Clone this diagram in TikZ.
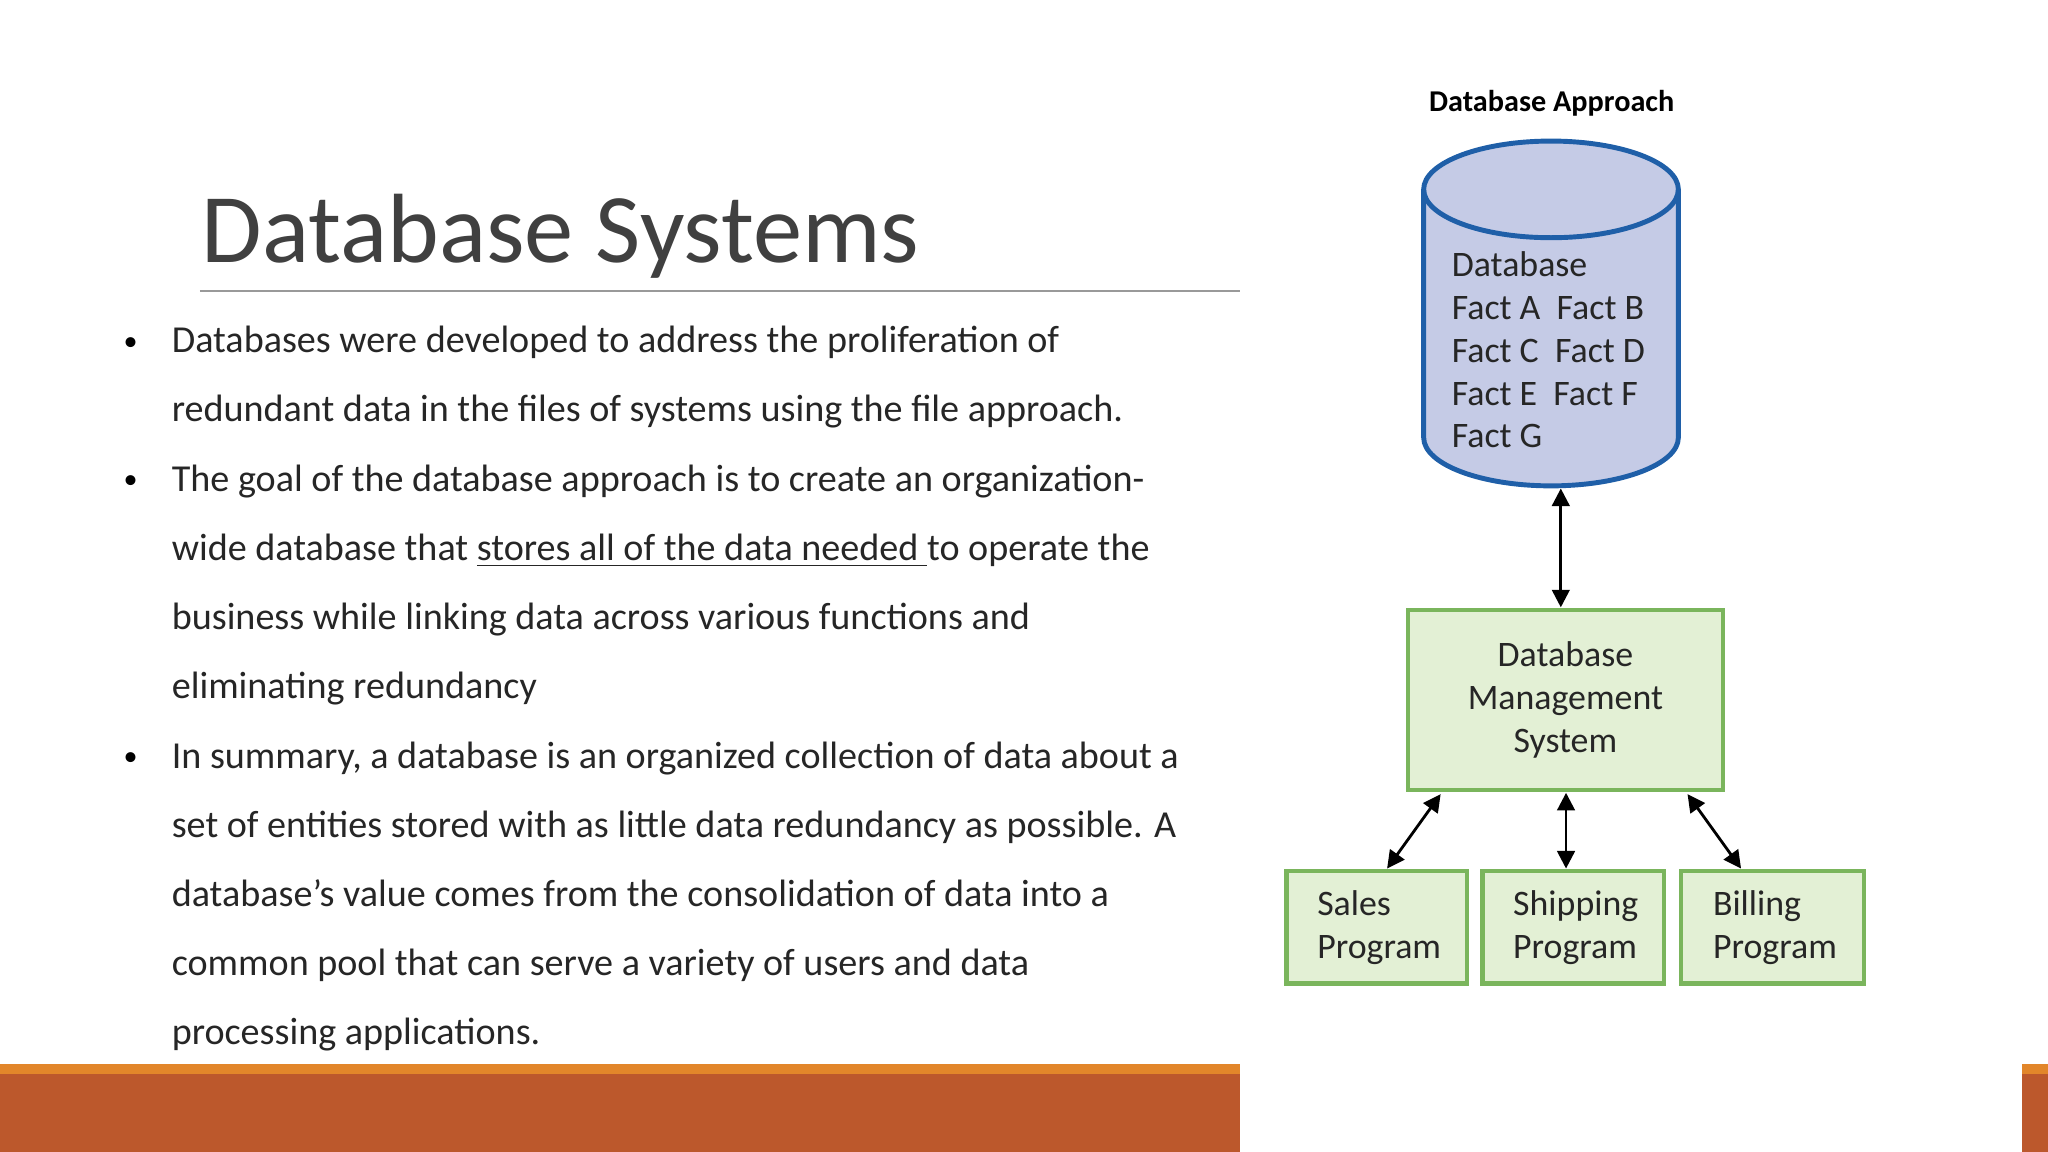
\documentclass[tikz,border=0pt]{standalone}
\usepackage{fontspec}
\setmainfont{Carlito}
\usetikzlibrary{arrows.meta}
\definecolor{cylfill}{HTML}{C5CBE6}
\definecolor{cylline}{HTML}{1F5FA8}
\definecolor{gfill}{HTML}{E3F0D5}
\definecolor{gline}{HTML}{7AB55C}
\definecolor{barA}{HTML}{BC582C}
\definecolor{barB}{HTML}{E2862A}
\begin{document}
\begin{tikzpicture}[x=0.01306cm,y=-0.01306cm,
 body/.style={anchor=base west,inner sep=0,font=\fontsize{10.85}{12}\selectfont,text=black!85},
 bul/.style={anchor=base,inner sep=0,font=\fontsize{8}{10}\selectfont},
 dtxt/.style={font=\fontsize{10.2}{12.2}\selectfont,text=black!85,inner sep=0},
 gbox/.style={draw=gline,line width=1.2pt,fill=gfill},
 arr/.style={{Triangle[length=5pt,width=5pt]}-{Triangle[length=5pt,width=5pt]},line width=0.8pt}]
\useasboundingbox (0,0) rectangle (1568,882);
% bottom bars
\fill[barA] (0,815) rectangle (949,882);
\fill[barB] (0,815) rectangle (949,822);
\fill[barA] (1548,815) rectangle (1568,882);
\fill[barB] (1548,815) rectangle (1568,822);
% title
\node[anchor=base west,inner sep=0,font=\fontsize{28}{32}\selectfont,text=black!75] (title) at (154,201) {Database Systems};
\draw[black!40,line width=0.5pt] (153,223) -- (949,223);
% bullets
\foreach \y in {268,374,586}{\node[bul] at (100,\y) {•};}
\node[body] (l1) at (131,270) {Databases were developed to address the proliferation of};
\node[body] (l2) at (131,323) {redundant data in the files of systems using the file approach.};
\node[body] (l3) at (131,376) {The goal of the database approach is to create an organization-};
\node[body] (l4) at (131,429) {wide database that \underline{stores all of the data needed }to operate the};
\node[body] (l5) at (131,482) {business while linking data across various functions and};
\node[body] (l6) at (131,535) {eliminating redundancy};
\node[body] (l7) at (131,588) {In summary, a database is an organized collection of data about a};
\node[body] (l8) at (131,641) {set of entities stored with as little data redundancy as possible. A};
\node[body] (l9) at (131,694) {database’s value comes from the consolidation of data into a};
\node[body] (l10) at (131,747) {common pool that can serve a variety of users and data};
\node[body] (l11) at (131,800) {processing applications.};
% diagram
\node[font=\bfseries\fontsize{8.6}{10}\selectfont,inner sep=0] (dtitle) at (1188,79) {Database Approach};
\fill[cylfill] (1090,145) -- (1090,335) arc[start angle=180,end angle=360,x radius=97.5,y radius=-37] -- (1285,145) -- cycle;
\draw[cylline,line width=1.4pt,fill=cylfill] (1187.5,145) ellipse [x radius=97.5,y radius=37];
\draw[cylline,line width=1.4pt] (1090,145) -- (1090,335) arc[start angle=180,end angle=360,x radius=97.5,y radius=-37] -- (1285,145);
\node[dtxt,align=left,anchor=north west] (db) at (1111,192) {Database\\Fact A\ \ Fact B\\Fact C\ \ Fact D\\Fact E\ \ Fact F\\Fact G};
\coordinate (dbb) at (1195,374);
\node[gbox,minimum width=241*0.01306cm,minimum height=138*0.01306cm] (dbms) at (1198.5,536) {};
\node[dtxt,align=center] (dbmst) at (1198.5,536) {Database\\Management\\System};
\node[gbox,minimum width=138*0.01306cm,minimum height=86*0.01306cm] (sales) at (1054,710) {};
\node[gbox,minimum width=139*0.01306cm,minimum height=86*0.01306cm] (ship) at (1204.5,710) {};
\node[gbox,minimum width=140*0.01306cm,minimum height=86*0.01306cm] (bill) at (1357,710) {};
\node[dtxt,align=left,anchor=west] at (1008,710) {Sales\\Program};
\node[dtxt,align=left,anchor=west] at (1158,710) {Shipping\\Program};
\node[dtxt,align=left,anchor=west] at (1311,710) {Billing\\Program};
\draw[arr] (dbb) -- (1195,465);
\draw[arr] (1103,608) -- (1062,665);
\draw[arr] (1199,607) -- (1199,665);
\draw[arr] (1292,608) -- (1333,665);
\end{tikzpicture}
\end{document}
